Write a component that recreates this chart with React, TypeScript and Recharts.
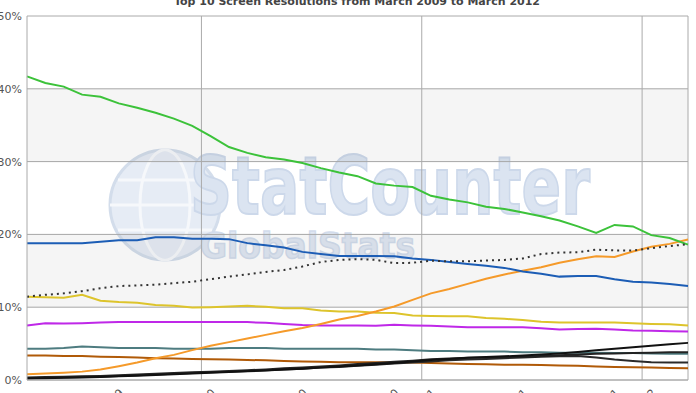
import React from "react";
import {
  LineChart,
  Line,
  XAxis,
  YAxis,
  CartesianGrid,
  ReferenceLine,
  ReferenceArea,
} from "recharts";

const months = [
  "Mar 09", "Apr 09", "May 09", "Jun 09", "Jul 09", "Aug 09", "Sep 09", "Oct 09", "Nov 09", "Dec 09",
  "Jan 10", "Feb 10", "Mar 10", "Apr 10", "May 10", "Jun 10", "Jul 10", "Aug 10", "Sep 10", "Oct 10",
  "Nov 10", "Dec 10", "Jan 11", "Feb 11", "Mar 11", "Apr 11", "May 11", "Jun 11", "Jul 11", "Aug 11",
  "Sep 11", "Oct 11", "Nov 11", "Dec 11", "Jan 12", "Feb 12", "Mar 12",
];

const tickIdx = [5, 10, 15, 20, 22, 27, 32, 34];
const yTicks = [0, 10, 20, 30, 40, 50];
const yearBreaks = [9.5, 21.5, 33.5];

const r1024x768 = [41.7, 40.8, 40.3, 39.2, 38.9, 38.0, 37.4, 36.7, 35.9, 34.9, 33.5, 32.0, 31.2, 30.6, 30.3, 29.8, 29.1, 28.5, 28.0, 27.0, 26.7, 26.5, 25.3, 24.8, 24.4, 23.8, 23.5, 23.0, 22.5, 21.9, 21.1, 20.2, 21.3, 21.1, 19.9, 19.5, 18.6];
const r1280x800 = [18.8, 18.8, 18.8, 18.8, 19.0, 19.2, 19.2, 19.6, 19.6, 19.4, 19.4, 19.35, 18.8, 18.5, 18.2, 17.6, 17.3, 17.05, 17.05, 17.05, 17.0, 16.7, 16.5, 16.2, 15.95, 15.7, 15.4, 14.9, 14.6, 14.2, 14.3, 14.3, 13.85, 13.5, 13.4, 13.2, 12.9];
const other = [11.45, 11.7, 11.9, 12.2, 12.6, 12.9, 13.0, 13.1, 13.3, 13.5, 13.85, 14.2, 14.5, 14.85, 15.1, 15.6, 16.2, 16.5, 16.6, 16.5, 16.05, 16.1, 16.4, 16.3, 16.3, 16.4, 16.5, 16.7, 17.3, 17.5, 17.55, 17.9, 17.8, 17.8, 18.1, 18.4, 18.65];
const r1366x768 = [0.8, 0.9, 1.0, 1.15, 1.45, 1.9, 2.4, 3.0, 3.45, 4.1, 4.7, 5.2, 5.7, 6.2, 6.7, 7.15, 7.7, 8.3, 8.8, 9.4, 10.1, 11.0, 11.9, 12.5, 13.2, 13.9, 14.5, 15.0, 15.5, 16.1, 16.6, 17.0, 16.9, 17.65, 18.3, 18.7, 19.3];
const r1280x1024 = [11.45, 11.35, 11.3, 11.7, 10.9, 10.7, 10.6, 10.3, 10.2, 9.95, 10.0, 10.1, 10.2, 10.05, 9.85, 9.85, 9.55, 9.4, 9.4, 9.25, 9.2, 8.85, 8.8, 8.75, 8.75, 8.5, 8.4, 8.25, 8.0, 7.9, 7.9, 7.9, 7.9, 7.8, 7.7, 7.65, 7.5];
const r1440x900 = [7.5, 7.8, 7.75, 7.8, 7.9, 7.95, 7.95, 7.95, 7.95, 7.95, 7.95, 7.95, 7.95, 7.85, 7.7, 7.55, 7.5, 7.5, 7.5, 7.45, 7.6, 7.5, 7.45, 7.35, 7.25, 7.25, 7.25, 7.25, 7.1, 6.95, 7.0, 7.05, 6.95, 6.8, 6.75, 6.7, 6.65];
const r800x600 = [4.3, 4.3, 4.4, 4.6, 4.5, 4.4, 4.4, 4.4, 4.3, 4.3, 4.3, 4.4, 4.4, 4.4, 4.3, 4.3, 4.3, 4.3, 4.3, 4.2, 4.2, 4.1, 4.0, 4.0, 3.9, 3.9, 3.9, 3.8, 3.8, 3.75, 3.75, 3.75, 3.7, 3.7, 3.65, 3.6, 3.6];
const r1152x864 = [3.35, 3.35, 3.3, 3.3, 3.2, 3.15, 3.1, 3.0, 2.95, 2.9, 2.85, 2.8, 2.75, 2.7, 2.6, 2.55, 2.5, 2.45, 2.45, 2.45, 2.4, 2.4, 2.35, 2.25, 2.2, 2.15, 2.1, 2.1, 2.05, 2.0, 1.95, 1.85, 1.8, 1.75, 1.7, 1.65, 1.6];
const r1920x1080 = [0.2, 0.25, 0.3, 0.35, 0.4, 0.5, 0.6, 0.7, 0.8, 0.9, 1.0, 1.1, 1.2, 1.3, 1.45, 1.55, 1.7, 1.85, 2.0, 2.15, 2.35, 2.55, 2.75, 2.9, 3.05, 3.15, 3.25, 3.35, 3.5, 3.65, 3.85, 4.1, 4.3, 4.5, 4.7, 4.9, 5.1];
const r1680x1050 = [0.35, 0.4, 0.45, 0.5, 0.55, 0.65, 0.75, 0.85, 0.95, 1.05, 1.15, 1.25, 1.35, 1.45, 1.6, 1.7, 1.85, 2.0, 2.2, 2.35, 2.5, 2.65, 2.85, 2.95, 3.05, 3.1, 3.15, 3.2, 3.3, 3.4, 3.5, 3.6, 3.65, 3.7, 3.75, 3.8, 3.8];
const r1600x900 = [0.25, 0.3, 0.35, 0.4, 0.45, 0.55, 0.65, 0.75, 0.85, 0.95, 1.05, 1.15, 1.25, 1.35, 1.45, 1.55, 1.7, 1.8, 1.95, 2.1, 2.25, 2.4, 2.55, 2.7, 2.8, 2.9, 3.0, 3.1, 3.2, 3.25, 3.3, 3.1, 2.8, 2.6, 2.45, 2.4, 2.4];

const data = months.map((m, i) => ({
  i,
  month: m,
  r1024x768: r1024x768[i],
  r1280x800: r1280x800[i],
  other: other[i],
  r1366x768: r1366x768[i],
  r1280x1024: r1280x1024[i],
  r1440x900: r1440x900[i],
  r800x600: r800x600[i],
  r1152x864: r1152x864[i],
  r1920x1080: r1920x1080[i],
  r1680x1050: r1680x1050[i],
  r1600x900: r1600x900[i],
}));

const font = "'DejaVu Sans', Verdana, sans-serif";

// background: title + faded StatCounter logo
const Backdrop = () => (
  <svg width={696} height={393} style={{ position: "absolute", left: 0, top: 0 }}>
    <text x={357} y={5} textAnchor="middle" fontFamily={font} fontWeight="bold" fontSize={11} fill="#444">
      Top 10 Screen Resolutions from March 2009 to March 2012
    </text>
    <g>
      <circle cx={165} cy={205} r={55} fill="#e6ecf5" stroke="#d3ddeb" strokeWidth={3} />
      <ellipse cx={165} cy={205} rx={25} ry={55} fill="none" stroke="#f6f8fb" strokeWidth={3} />
      <line x1={110} y1={205} x2={220} y2={205} stroke="#f6f8fb" strokeWidth={3} />
      <line x1={118} y1={180} x2={212} y2={180} stroke="#f6f8fb" strokeWidth={3} />
      <line x1={118} y1={230} x2={212} y2={230} stroke="#f6f8fb" strokeWidth={3} />
      <text x={190} y={214} fontFamily={font} fontWeight="bold" fontSize={80} textLength={400} lengthAdjust="spacingAndGlyphs" fill="#dbe4f1" stroke="#ccd8ea" strokeWidth={2}>
        StatCounter
      </text>
      <text x={200} y={258} fontFamily={font} fontWeight="bold" fontSize={36} textLength={215} lengthAdjust="spacingAndGlyphs" fill="#e0e8f3" stroke="#d2dcec" strokeWidth={1.5}>
        GlobalStats
      </text>
    </g>
  </svg>
);

const series = [
  { key: "r1152x864", color: "#b05a08" },
  { key: "r800x600", color: "#4e7c80" },
  { key: "r1600x900", color: "#2a2a2a" },
  { key: "r1680x1050", color: "#222222" },
  { key: "r1920x1080", color: "#111111" },
  { key: "r1440x900", color: "#bf28e8" },
  { key: "r1280x1024", color: "#ddc42c" },
  { key: "r1366x768", color: "#f59a2a" },
  { key: "r1280x800", color: "#1c5db5" },
  { key: "r1024x768", color: "#3cc23a" },
];

export default function App() {
  return (
    <div style={{ position: "absolute", left: 0, top: 0, width: 696, height: 393, overflow: "hidden", background: "#fff" }}>
      <Backdrop />
      <div style={{ position: "absolute", left: 0, top: 0 }}>
        <LineChart width={696} height={393} data={data} margin={{ top: 16, right: 8, bottom: 0, left: 0 }}>
          <ReferenceArea y1={10} y2={20} fill="#000" fillOpacity={0.04} stroke="none" />
          <ReferenceArea y1={30} y2={40} fill="#000" fillOpacity={0.04} stroke="none" />
          <CartesianGrid vertical={false} stroke="#aaaaaa" />
          {yearBreaks.map((x) => (
            <ReferenceLine key={x} x={x} stroke="#aaaaaa" />
          ))}
          <ReferenceLine x={36} stroke="#aaaaaa" />
          <XAxis
            dataKey="i"
            type="number"
            domain={[0, 36]}
            ticks={tickIdx}
            tickFormatter={(v) => months[v]}
            height={13}
            angle={-45}
            textAnchor="end"
            tickLine={false}
            stroke="#aaaaaa"
            tick={{ fill: "#555", fontSize: 11, fontFamily: font }}
          />
          <YAxis
            domain={[0, 50]}
            ticks={yTicks}
            tickFormatter={(v) => v + "%"}
            width={27}
            tickLine={false}
            tickSize={5}
            tickMargin={0}
            stroke="#aaaaaa"
            tick={{ fill: "#555", fontSize: 11, fontFamily: font }}
          />
          {series.map((s) => (
            <Line
              key={s.key}
              type="linear"
              dataKey={s.key}
              stroke={s.color}
              strokeWidth={2}
              dot={false}
              isAnimationActive={false}
            />
          ))}
          <Line
            type="linear"
            dataKey="other"
            stroke="#333"
            strokeWidth={2}
            strokeDasharray="2 4"
            dot={false}
            isAnimationActive={false}
          />
        </LineChart>
      </div>
    </div>
  );
}
